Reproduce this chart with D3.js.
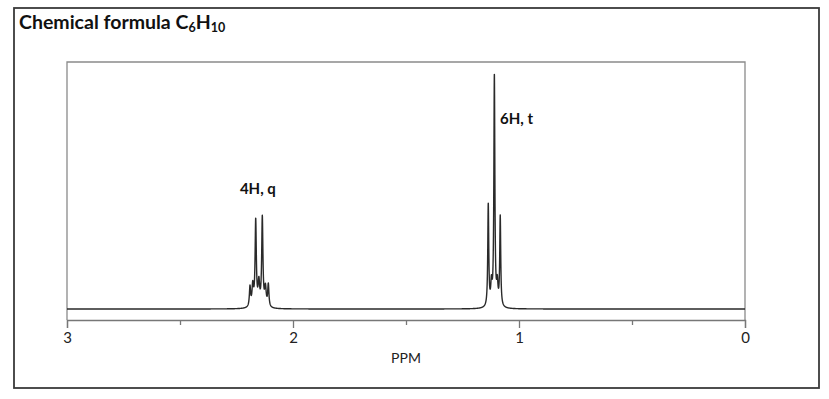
<!DOCTYPE html>
<html>
<head>
<meta charset="utf-8">
<script src="https://cdn.jsdelivr.net/npm/d3@7"></script>
<style>
body { margin: 0; background: #fff; }
text { font-family: Lato, "Open Sans", sans-serif; }
</style>
</head>
<body>
<svg id="chart" width="829" height="399"></svg>
<script>
// peak list (ppm, relative height, half width in ppm)
// main multiplet lines first, then the small shoulder lines seen near the foot
const peakPpm = [2.1903, 2.1650, 2.1358, 2.1092, 1.136, 1.109, 1.083,
    2.178, 2.151, 2.122, 1.122, 1.096];
const peakHeight = [8.5, 36.5, 38.0, 9.6, 43.5, 98.0, 38.3,
    9, 10, 8, 9, 9];
const peakWidth = [0.0032, 0.0032, 0.0032, 0.0032, 0.0026, 0.0026, 0.0026,
    0.004, 0.004, 0.004, 0.0035, 0.0035];

const majorTicks = [3, 2, 1, 0];
const minorTicks = [2.5, 1.5, 0.5];

const noteText = ["4H, q", "6H, t"];
const notePpm = [2.235, 1.084];
const noteLevel = [49, 78.7];

const svg = d3.select("#chart");

// outer frame
svg.append("rect")
    .attr("x", 14).attr("y", 8)
    .attr("width", 805).attr("height", 380)
    .attr("fill", "none").attr("stroke", "#3a3a3a").attr("stroke-width", 1.8);

// title with subscripts
const title = svg.append("text")
    .attr("x", 19).attr("y", 29)
    .attr("font-size", 19.5).attr("font-weight", "bold").attr("fill", "#111");
title.append("tspan").text("Chemical formula C");
title.append("tspan").text("6").attr("font-size", 12.5).attr("dy", 3);
title.append("tspan").text("H").attr("dy", -3);
title.append("tspan").text("10").attr("font-size", 12.5).attr("dy", 3);

const x = d3.scaleLinear().domain([3, 0]).range([67, 745]);
const y = d3.scaleLinear().domain([0, 100]).range([309, 74]);
const plotTop = 62, axisY = 320;

// plot box (left, top, right)
svg.append("path")
    .attr("d", `M${x(3)},${axisY}V${plotTop}H${x(0)}V${axisY}`)
    .attr("fill", "none").attr("stroke", "#8a8a8a").attr("stroke-width", 1.3);

// spectrum: sum of lorentzian lines
const lorentz = function (p) {
    let s = 0;
    peakPpm.forEach((c, i) => {
        const g = peakWidth[i];
        s += peakHeight[i] * g * g / ((p - c) * (p - c) + g * g);
    });
    return s;
};
const grid = d3.range(3, -0.00001, -0.0003);
const trace = grid.map(p => [p, lorentz(p)]);

svg.append("path")
    .datum(trace)
    .attr("d", d3.line().x(d => x(d[0])).y(d => y(d[1])))
    .attr("fill", "none").attr("stroke", "#2a2a2a").attr("stroke-width", 1.4)
    .attr("stroke-linejoin", "round");

// axes
const majorAxis = d3.axisBottom(x).tickValues(majorTicks).tickSize(8).tickPadding(4)
    .tickFormat(d3.format("d"));
const gMajor = svg.append("g").attr("transform", `translate(0,${axisY})`).call(majorAxis);
gMajor.select(".domain").attr("stroke", "#777").attr("stroke-width", 1.3);
gMajor.selectAll(".tick line").attr("stroke", "#777").attr("stroke-width", 1.3);
gMajor.selectAll(".tick text").attr("font-size", 15).attr("fill", "#222")
    .style("font-family", "Lato, sans-serif");

const minorAxis = d3.axisBottom(x).tickValues(minorTicks).tickSize(5).tickFormat("");
const gMinor = svg.append("g").attr("transform", `translate(0,${axisY})`).call(minorAxis);
gMinor.select(".domain").remove();
gMinor.selectAll(".tick line").attr("stroke", "#777").attr("stroke-width", 1.3);

svg.append("text")
    .attr("x", (x(3) + x(0)) / 2).attr("y", 363)
    .attr("text-anchor", "middle").attr("font-size", 14).attr("fill", "#222")
    .text("PPM");

// multiplet notes
svg.selectAll(".note")
    .data(noteText)
    .join("text")
    .attr("class", "note")
    .attr("x", (d, i) => x(notePpm[i]))
    .attr("y", (d, i) => y(noteLevel[i]))
    .attr("font-size", 15).attr("font-weight", "bold").attr("fill", "#111")
    .text(d => d);
</script>
</body>
</html>
